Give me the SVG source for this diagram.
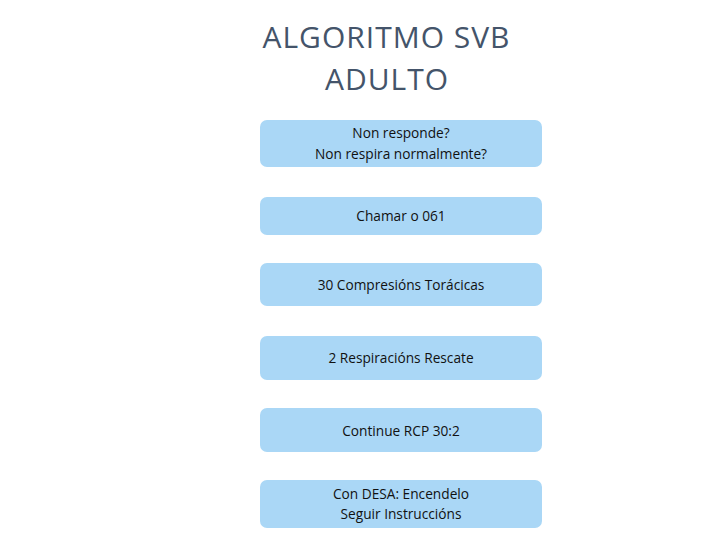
<svg xmlns="http://www.w3.org/2000/svg" width="720" height="540" viewBox="0 0 720 540">
<style>
.title{font-family:"Open Sans","Liberation Sans",sans-serif;font-size:30px;letter-spacing:1px;fill:#44546A;text-anchor:middle}
.box{fill:#AAD7F6}
.lbl{font-family:"Open Sans","Liberation Sans",sans-serif;font-size:13.7px;fill:#111111;text-anchor:middle}
</style>
<rect width="720" height="540" fill="#FFFFFF"/>
<g id="title">
<text class="title" x="386.5" y="48">ALGORITMO SVB</text>
<text class="title" x="387" y="90">ADULTO</text>
</g>
<g id="connectors"></g>
<g id="n1"><rect class="box" x="260" y="120" width="282" height="47" rx="7"/>
<text class="lbl" x="401" y="138">Non responde?</text>
<text class="lbl" x="401" y="159">Non respira normalmente?</text></g>
<g id="n2"><rect class="box" x="260" y="197" width="282" height="38" rx="7"/>
<text class="lbl" x="401" y="221">Chamar o 061</text></g>
<g id="n3"><rect class="box" x="260" y="263" width="282" height="43" rx="7"/>
<text class="lbl" x="401" y="290">30 Compresións Torácicas</text></g>
<g id="n4"><rect class="box" x="260" y="336" width="282" height="44" rx="7"/>
<text class="lbl" x="401" y="363">2 Respiracións Rescate</text></g>
<g id="n5"><rect class="box" x="260" y="408" width="282" height="44" rx="7"/>
<text class="lbl" x="401" y="436">Continue RCP 30:2</text></g>
<g id="n6"><rect class="box" x="260" y="480" width="282" height="48" rx="7"/>
<text class="lbl" x="401" y="499">Con DESA: Encendelo</text>
<text class="lbl" x="401" y="519">Seguir Instruccións</text></g>
</svg>
